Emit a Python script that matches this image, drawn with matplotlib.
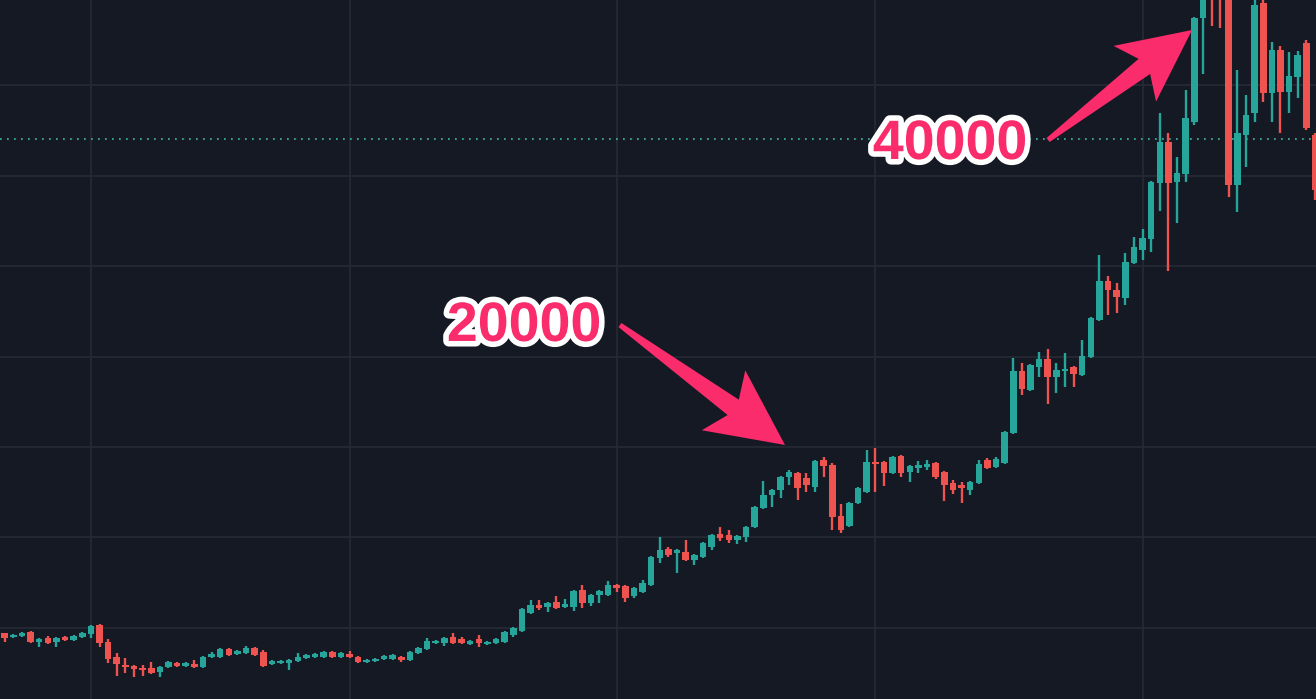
import numpy as np
import pandas as pd
import matplotlib
matplotlib.use("Agg")
import matplotlib.pyplot as plt
import matplotlib.dates as mdates
import matplotlib.patheffects as pe
from matplotlib.patches import Polygon
from matplotlib.transforms import IdentityTransform

BG = "#151924"; GRID = "#252a36"; UP = "#26a69a"; DOWN = "#ef5350"; PINK = "#fa2c6b"

# daily candles, 2020-08-22 .. 2021-01-21
dates = pd.date_range("2020-08-22", periods=153, freq="D")
open_ = [11780, 11600, 11650, 11820, 11380, 11560, 11380, 11600, 11470, 11600,
         11730, 12130, 11380, 10720, 10360, 10320, 10230, 10230, 10050, 10280,
         10450, 10320, 10410, 10280, 10720, 10720, 11070, 10850, 10890, 11120,
         10940, 10410, 10450, 10450, 10540, 10670, 10720, 10720, 10940, 10720,
         10850, 10720, 10500, 10540, 10630, 10630, 10720, 10590, 10890, 11070,
         11340, 11340, 11600, 11510, 11290, 11510, 11290, 11340, 11380, 11690,
         11870, 12660, 13020, 12930, 13150, 12930, 12930, 13680, 13100, 13460,
         13460, 13900, 13860, 13410, 13590, 13900, 15090, 15490, 15310, 15360,
         15010, 15140, 15580, 16150, 16110, 15890, 16020, 16460, 17300, 17880,
         18100, 18670, 18850, 18630, 18230, 19430, 19200, 16950, 16510, 17520,
         18010, 19340, 19340, 18850, 19600, 18900, 19070, 19120, 19290, 18900,
         18410, 18320, 18100, 18410, 19430, 19120, 19290, 20620, 23360, 22520,
         23540, 23890, 23090, 23360, 23540, 23180, 23980, 25610, 27340, 26940,
         26590, 28130, 28710, 29190, 31670, 33480, 31710, 32070, 34370, 38960,
         40640, 40200, 39850, 31580, 33790, 34760, 39620, 35650, 37550, 35690,
         36350, 37860, 33790]
high = [11780, 11730, 11820, 11870, 11560, 11650, 11600, 11650, 11690, 11820,
        12130, 12180, 11510, 10890, 10670, 10360, 10360, 10500, 10320, 10540,
        10500, 10500, 10590, 10760, 10940, 11120, 11120, 11030, 11200, 11160,
        11030, 10590, 10590, 10630, 10890, 10850, 10890, 10980, 10980, 10940,
        10980, 10760, 10630, 10670, 10810, 10850, 10760, 10980, 11160, 11560,
        11470, 11600, 11780, 11600, 11470, 11690, 11420, 11560, 11870, 12040,
        12880, 13240, 13240, 13150, 13410, 13280, 13680, 13900, 13500, 13680,
        14080, 13940, 13900, 13810, 14120, 15180, 16020, 15580, 15490, 15890,
        15270, 15800, 16150, 16460, 16330, 16110, 16510, 17390, 18500, 18140,
        18720, 18980, 18900, 18850, 19430, 19560, 19290, 17480, 17570, 18230,
        19870, 19950, 19380, 19600, 19650, 19200, 19380, 19430, 19340, 18940,
        18540, 18450, 18500, 19430, 19510, 19560, 20710, 23930, 23710, 23670,
        24200, 24330, 23710, 24150, 23580, 24730, 25750, 28490, 27560, 27250,
        28580, 29280, 29640, 31760, 34760, 33880, 32820, 35780, 39010, 41970,
        41530, 41080, 40260, 36660, 35560, 39760, 39800, 37900, 37720, 37460,
        37500, 37990, 33880]
low = [11380, 11560, 11600, 11340, 11160, 11290, 11160, 11420, 11420, 11560,
       11560, 11160, 10450, 9880, 10010, 9830, 9880, 9970, 9830, 10230,
       10280, 10280, 10230, 10230, 10670, 10670, 10760, 10810, 10850, 10760,
       10280, 10360, 10410, 10140, 10500, 10630, 10670, 10670, 10670, 10670,
       10670, 10450, 10450, 10500, 10590, 10590, 10500, 10540, 10850, 11030,
       11290, 11200, 11290, 11290, 11250, 11160, 11250, 11290, 11340, 11600,
       11820, 12620, 12800, 12710, 12840, 12880, 12750, 12880, 12970, 13100,
       13410, 13590, 13150, 13330, 13550, 13860, 14870, 15140, 14430, 14960,
       14780, 15090, 15450, 15850, 15760, 15710, 15800, 16420, 17260, 17350,
       17750, 18320, 17660, 18010, 18010, 18670, 16330, 16200, 16460, 17480,
       17970, 18010, 18280, 18810, 18670, 18450, 18850, 18980, 18590, 17610,
       17920, 17520, 17880, 18370, 19030, 19070, 19250, 20570, 22300, 22480,
       23090, 21900, 22390, 22650, 22650, 23140, 23930, 25570, 25830, 25920,
       26280, 28090, 28270, 28620, 30430, 27780, 29900, 31710, 34230, 36490,
       38610, 38520, 31050, 30390, 32380, 34370, 35250, 34370, 33880, 34760,
       35430, 34010, 30920]
close = [11560, 11690, 11780, 11380, 11510, 11340, 11560, 11470, 11650, 11780,
         12090, 11340, 10630, 10410, 10280, 10190, 10140, 10010, 10280, 10500,
         10320, 10450, 10280, 10720, 10850, 11070, 10810, 10980, 11120, 10810,
         10320, 10540, 10540, 10590, 10720, 10810, 10850, 10940, 10720, 10890,
         10720, 10500, 10590, 10630, 10760, 10810, 10590, 10940, 11120, 11420,
         11420, 11560, 11340, 11340, 11420, 11340, 11380, 11510, 11820, 12000,
         12840, 13020, 12880, 13100, 12880, 13060, 13640, 13100, 13460, 13640,
         13900, 13770, 13330, 13770, 13990, 15140, 15450, 15230, 15450, 15010,
         15230, 15760, 16110, 15980, 15890, 16070, 16460, 17350, 17880, 18100,
         18670, 18900, 18190, 18320, 19380, 19160, 16910, 16330, 17520, 18190,
         19340, 19250, 18850, 19560, 18850, 19160, 19200, 19250, 18670, 18320,
         18100, 18190, 18450, 19250, 19070, 19470, 20660, 23360, 22560, 23620,
         23890, 23090, 23400, 23450, 23230, 24020, 25700, 27340, 26940, 26630,
         28180, 28840, 29240, 31710, 33480, 31670, 32110, 34540, 38960, 40640,
         40200, 39850, 31580, 33880, 34670, 39540, 35650, 37550, 35690, 36400,
         37330, 34100, 31360]
price_line = 33610
grid_levels = [12000, 16000, 20000, 24000, 28000, 32000, 36000]
callouts = ["20000", "40000"]

o, h, l, c = (np.array(a, float) for a in (open_, high, low, close))
assert len(o) == len(h) == len(l) == len(c) == len(dates)
x = mdates.date2num(dates)
cols = np.where(c >= o, UP, DOWN)

fig = plt.figure(figsize=(13.16, 6.99), dpi=100, facecolor=BG)
ax = fig.add_axes([0, 0, 1, 1], facecolor=BG)
ax.set_xlim(x[0] - 0.545, x[-1] + 0.12)
ax.set_ylim(8860, 39760)
ax.axis("off")

# grid: month starts + price levels
for m in pd.date_range("2020-09-01", "2021-01-01", freq="MS"):
    ax.axvline(mdates.date2num(m), color=GRID, lw=1.2, zorder=0)
for g in grid_levels:
    ax.axhline(g, color=GRID, lw=1.2, zorder=0)

ax.vlines(x, l, h, colors=cols, lw=1.7, zorder=2)
body = np.maximum(np.abs(c - o), 50)
ax.bar(x, body, bottom=np.minimum(o, c), width=0.76, color=cols, lw=0, zorder=3)

ax.axhline(price_line, color="#3a9f91", lw=1.4, ls=(0, (0.9, 2.7)), zorder=1)

# callouts
fig.canvas.draw()
def arrow(p0, p1, tail_hw=2.5, neck_hw=9.5, head_hw=37, head_len=76, barb=12):
    p0 = np.array(ax.transAxes.transform(p0)); p1 = np.array(ax.transAxes.transform(p1))
    d = p1 - p0; u = d / np.hypot(*d); n = np.array([-u[1], u[0]])
    base = p1 - u * head_len; neck = p1 - u * (head_len - barb)
    pts = [p0 + n * tail_hw, neck + n * neck_hw, base + n * head_hw, p1,
           base - n * head_hw, neck - n * neck_hw, p0 - n * tail_hw]
    ax.add_patch(Polygon(pts, closed=True, fc=PINK, ec="none", transform=IdentityTransform(), zorder=6))

arrow((0.4711, 0.5350), (0.5965, 0.3634))
arrow((0.7964, 0.7997), (0.9058, 0.9571), head_hw=35, head_len=72)

txt_fx = [pe.withStroke(linewidth=8, foreground="white")]
for s, (tx, ty) in zip(callouts, [(0.3982, 0.5122), (0.7219, 0.7725)]):
    ax.text(tx, ty, s, transform=ax.transAxes, ha="center", va="baseline",
            fontsize=40, fontweight="bold", family=["Liberation Sans", "DejaVu Sans"],
            color=PINK, path_effects=txt_fx, zorder=7)

fig.savefig("out.png", dpi=100, facecolor=BG)
